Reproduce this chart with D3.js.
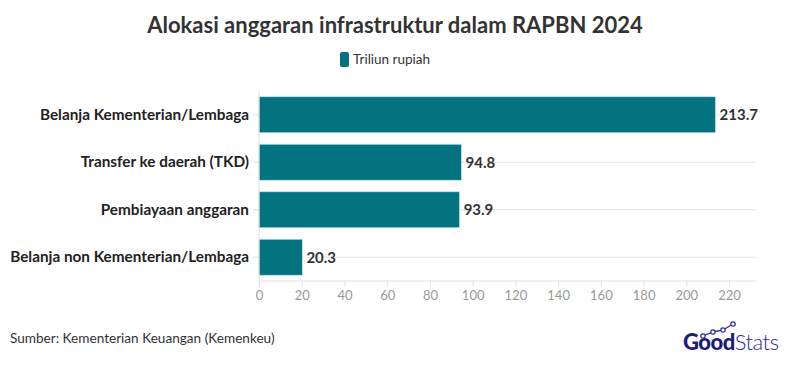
<!DOCTYPE html>
<html>
<head>
<meta charset="utf-8">
<script src="https://cdn.jsdelivr.net/npm/d3@7"></script>
<style>
  body { margin: 0; background: #fff; }
  svg text { font-family: "Source Sans Pro", Lato, "Noto Sans", sans-serif; }
</style>
</head>
<body>
<div id="chart"></div>
<script>
// data
const categories = ["Belanja Kementerian/Lembaga", "Transfer ke daerah (TKD)", "Pembiayaan anggaran", "Belanja non Kementerian/Lembaga"];
const values = [213.7, 94.8, 93.9, 20.3];
const xTicks = [0, 20, 40, 60, 80, 100, 120, 140, 160, 180, 200, 220];
const seriesName = "Triliun rupiah";

const W = 790, H = 373;
const margin = { top: 91, right: 34, bottom: 92, left: 259 };
const width = W - margin.left - margin.right;
const height = H - margin.top - margin.bottom;
const barColor = "#037380";

const svg = d3.select("#chart").append("svg")
    .attr("width", W)
    .attr("height", H);

// title
svg.append("text")
    .attr("x", W / 2)
    .attr("y", 33)
    .attr("text-anchor", "middle")
    .style("font-size", "22px")
    .style("font-weight", "bold")
    .attr("fill", "#333")
    .text("Alokasi anggaran infrastruktur dalam RAPBN 2024");

// legend
const legend = svg.append("g").attr("transform", "translate(340,52)");
legend.append("rect")
    .attr("width", 9).attr("height", 15).attr("rx", 2)
    .attr("fill", barColor);
legend.append("text")
    .attr("x", 13).attr("y", 12)
    .style("font-size", "13.5px")
    .attr("fill", "#333")
    .text(seriesName);

const g = svg.append("g").attr("transform", `translate(${margin.left},${margin.top})`);

const x = d3.scaleLinear().domain([0, 232.6]).range([0, width]);
const y = d3.scaleBand().domain(categories).range([0, height]).paddingInner(0.24).paddingOuter(0.12);

// gridlines at band centres
g.selectAll(".grid")
    .data(categories)
    .enter().append("line")
    .attr("x1", 0).attr("x2", width)
    .attr("y1", d => y(d) + y.bandwidth() / 2)
    .attr("y2", d => y(d) + y.bandwidth() / 2)
    .attr("stroke", "#e6e6e6");

// bars
g.selectAll(".bar")
    .data(values)
    .enter().append("rect")
    .attr("x", 0)
    .attr("y", (d, i) => y(categories[i]))
    .attr("width", d => x(d))
    .attr("height", y.bandwidth())
    .attr("fill", barColor)
    .attr("stroke", "#cfe6e9")
    .attr("stroke-width", 0.8);

// value labels
g.selectAll(".val")
    .data(values)
    .enter().append("text")
    .attr("x", d => x(d) + 4)
    .attr("y", (d, i) => y(categories[i]) + y.bandwidth() / 2)
    .attr("dy", "0.35em")
    .style("font-size", "15px")
    .style("font-weight", "bold")
    .attr("fill", "#333")
    .text(d => d.toFixed(1));

// left axis
const yAxis = g.append("g").call(d3.axisLeft(y).tickSize(6).tickPadding(4));
yAxis.select(".domain").attr("stroke", "#e0e0e0").attr("d", `M0,0V${height}`);
yAxis.selectAll(".tick line").attr("stroke", "#e0e0e0");
yAxis.selectAll(".tick text")
    .style("font-size", "15.3px")
    .style("font-weight", "bold")
    .attr("fill", "#222");

// bottom axis
const xAxis = g.append("g")
    .attr("transform", `translate(0,${height})`)
    .call(d3.axisBottom(x).tickValues(xTicks).tickSize(6).tickPadding(4));
xAxis.select(".domain").attr("stroke", "#e0e0e0").attr("d", `M0,0H${width}`);
xAxis.selectAll(".tick line").attr("stroke", "#e0e0e0");
xAxis.selectAll(".tick text")
    .style("font-size", "13px")
    .attr("fill", "#999");

// source
svg.append("text")
    .attr("x", 10).attr("y", 343)
    .style("font-size", "13.6px")
    .attr("fill", "#333")
    .text("Sumber: Kementerian Keuangan (Kemenkeu)");

// logo
const logo = svg.append("g").attr("transform", "translate(683,350)");
const lt = logo.append("text").style("font-size", "22px").attr("letter-spacing", "-0.5");
lt.append("tspan").attr("fill", "#1b1b7a").style("font-weight", "900").text("Good");
lt.append("tspan").attr("fill", "#2b2b9a").style("font-weight", "300").text("Stats");
const pts = [[20, -14], [30, -18], [40, -20], [50, -26]];
logo.append("path")
    .attr("d", d3.line()(pts))
    .attr("fill", "none").attr("stroke", "#2b2b9a").attr("stroke-width", 1.3);
logo.selectAll(".dot").data(pts).enter().append("circle")
    .attr("cx", d => d[0]).attr("cy", d => d[1]).attr("r", 2.2)
    .attr("fill", "#fff").attr("stroke", "#2b2b9a").attr("stroke-width", 1.2);
</script>
</body>
</html>
